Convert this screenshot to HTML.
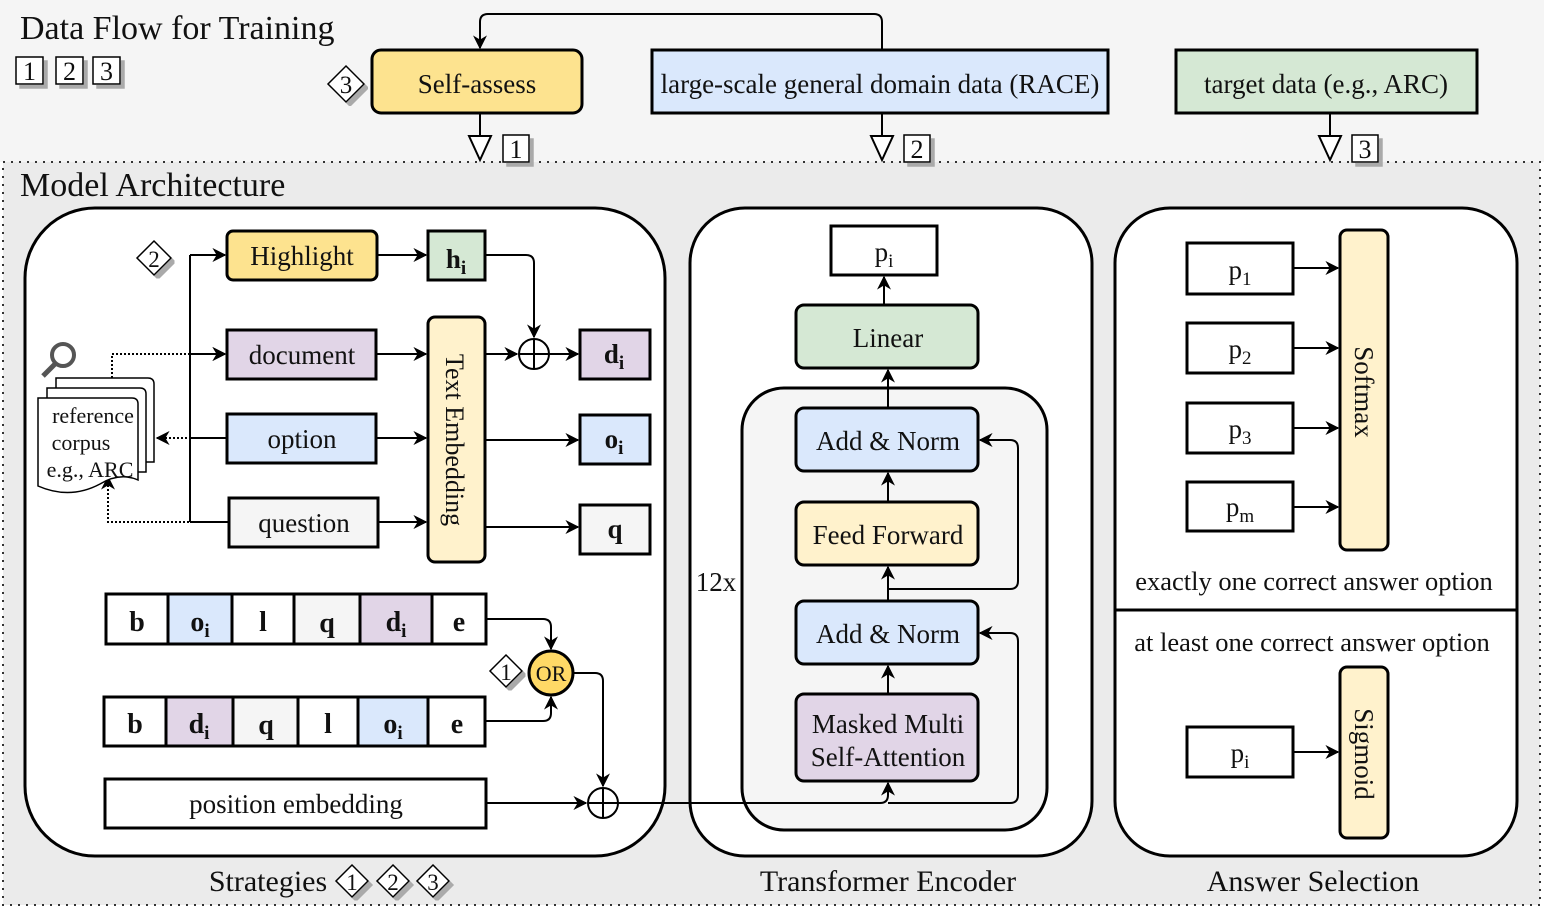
<!DOCTYPE html>
<html><head><meta charset="utf-8"><style>body{margin:0;background:#fff}svg{display:block}text{font-family:"Liberation Serif",serif;fill:#111}</style></head><body>
<svg width="1544" height="909" viewBox="0 0 1544 909" xmlns="http://www.w3.org/2000/svg">
<defs>
<marker id="a" viewBox="0 0 10 10" refX="9" refY="5" markerWidth="7" markerHeight="7" orient="auto-start-reverse"><path d="M0,0 L10,5 L0,10 L3,5 z" fill="#000"/></marker>
<filter id="sh"><feDropShadow dx="4" dy="4" stdDeviation="0" flood-color="#aaa"/></filter>
</defs>
<rect x="0" y="0" width="1544" height="162" fill="#f5f5f5"/>
<rect x="3" y="162" width="1537" height="743" fill="#ebebeb" stroke="#333" stroke-width="2" stroke-dasharray="2,6"/>
<text x="20" y="39" font-size="34">Data Flow for Training</text>
<text x="20" y="196" font-size="34">Model Architecture</text>
<g font-size="26" filter="url(#sh)">
<rect x="16" y="57" width="27" height="27" fill="#fff" stroke="#000" stroke-width="1.5"/><text x="29.5" y="80" text-anchor="middle">1</text>
<rect x="56" y="57" width="27" height="27" fill="#fff" stroke="#000" stroke-width="1.5"/><text x="69.5" y="80" text-anchor="middle">2</text>
<rect x="93" y="57" width="27" height="27" fill="#fff" stroke="#000" stroke-width="1.5"/><text x="106.5" y="80" text-anchor="middle">3</text>
</g>
<rect x="372" y="50" width="210" height="63" rx="9" fill="#fde38f" stroke="#000" stroke-width="3"/>
<text x="477" y="93" font-size="27" text-anchor="middle">Self-assess</text>
<rect x="652" y="50" width="456" height="63" fill="#dae8fc" stroke="#000" stroke-width="3"/>
<text x="880" y="93" font-size="27" text-anchor="middle">large-scale general domain data (RACE)</text>
<rect x="1176" y="50" width="301" height="63" fill="#d5e8d4" stroke="#000" stroke-width="3"/>
<text x="1326" y="93" font-size="27" text-anchor="middle">target data (e.g., ARC)</text>
<path d="M882,50 V22 Q882,14 874,14 H488 Q480,14 480,22 V48" fill="none" stroke="#000" stroke-width="2" marker-end="url(#a)"/>
<g filter="url(#sh)"><path d="M346,66 L364,84 L346,102 L328,84 Z" fill="#fff" stroke="#000" stroke-width="1.5"/></g>
<text x="346" y="93" font-size="25" text-anchor="middle">3</text>
<g stroke="#000" stroke-width="2" fill="#fff">
<path d="M480,113 V136"/><path d="M469,136 H491 L480,160 Z"/>
<path d="M882,113 V136"/><path d="M871,136 H893 L882,160 Z"/>
<path d="M1330,113 V136"/><path d="M1319,136 H1341 L1330,160 Z"/>
</g>
<g font-size="26" filter="url(#sh)">
<rect x="503" y="135" width="26" height="27" fill="#fff" stroke="#000" stroke-width="1.5"/><text x="516" y="158" text-anchor="middle">1</text>
<rect x="904" y="135" width="26" height="27" fill="#fff" stroke="#000" stroke-width="1.5"/><text x="917" y="158" text-anchor="middle">2</text>
<rect x="1352" y="135" width="26" height="27" fill="#fff" stroke="#000" stroke-width="1.5"/><text x="1365" y="158" text-anchor="middle">3</text>
</g>
<rect x="25" y="208" width="640" height="648" rx="70" fill="#fff" stroke="#000" stroke-width="3"/>
<rect x="690" y="208" width="402" height="648" rx="55" fill="#fff" stroke="#000" stroke-width="3"/>
<rect x="1115" y="208" width="402" height="648" rx="55" fill="#fff" stroke="#000" stroke-width="3"/>
<line x1="1115" y1="610" x2="1517" y2="610" stroke="#000" stroke-width="3"/>
<g filter="url(#sh)"><path d="M154,241 L171,258 L154,275 L137,258 Z" fill="#fff" stroke="#000" stroke-width="1.5"/></g>
<text x="154" y="267" font-size="23" text-anchor="middle">2</text>
<g stroke="#000" stroke-width="3">
<rect x="227" y="231" width="150" height="49" rx="6" fill="#fde38f"/>
<rect x="428" y="231" width="57" height="49" fill="#d5e8d4"/>
<rect x="227" y="330" width="149" height="49" fill="#e1d5e7"/>
<rect x="227" y="414" width="149" height="49" fill="#dae8fc"/>
<rect x="229" y="498" width="149" height="49" fill="#f5f5f5"/>
<rect x="428" y="317" width="57" height="245" rx="7" fill="#fff2cc"/>
<rect x="580" y="330" width="70" height="49" fill="#e1d5e7"/>
<rect x="580" y="415" width="70" height="49" fill="#dae8fc"/>
<rect x="580" y="505" width="70" height="49" fill="#f5f5f5"/>
</g>
<g font-size="27" text-anchor="middle">
<text x="302" y="265">Highlight</text>
<text x="302" y="364">document</text>
<text x="302" y="448">option</text>
<text x="304" y="532">question</text>
<text x="456" y="268" font-weight="bold">h<tspan font-size="19" dy="6">i</tspan></text>
<text x="614" y="363" font-weight="bold">d<tspan font-size="19" dy="6">i</tspan></text>
<text x="614" y="448" font-weight="bold">o<tspan font-size="19" dy="6">i</tspan></text>
<text x="615" y="538" font-weight="bold">q</text>
<text transform="translate(446,440) rotate(90)" font-size="26">Text Embedding</text>
</g>
<g stroke="#000" stroke-width="2" fill="none">
<path d="M190,255 V522"/>
<path d="M190,255 H225" marker-end="url(#a)"/>
<path d="M190,354 H225" marker-end="url(#a)"/>
<path d="M190,438 H227"/><path d="M190,522 H229"/>
<path d="M377,255 H426" marker-end="url(#a)"/>
<path d="M485,255 H526 Q534,255 534,263 V337" marker-end="url(#a)"/>
<path d="M376,354 H426" marker-end="url(#a)"/>
<path d="M376,438 H426" marker-end="url(#a)"/>
<path d="M378,522 H426" marker-end="url(#a)"/>
<path d="M485,354 H517" marker-end="url(#a)"/>
<path d="M549,354 H578" marker-end="url(#a)"/>
<path d="M485,440 H578" marker-end="url(#a)"/>
<path d="M485,527 H578" marker-end="url(#a)"/>
<circle cx="534" cy="354" r="15" fill="#fff"/><path d="M519,354 H549 M534,339 V369"/>
<path d="M112,378 V354 H225" stroke-dasharray="2,2" marker-end="url(#a)"/>
<path d="M227,438 H157" stroke-dasharray="2,2" marker-end="url(#a)"/>
<path d="M229,522 H108 V477" stroke-dasharray="2,2" marker-end="url(#a)"/>
</g>
<g stroke="#000" stroke-width="1.5" fill="#fff">
<path d="M56,378 H148 Q154,378 154,384 V462 H56 Z"/>
<path d="M47,388 H140 Q146,388 146,394 V472 H47 Z"/>
<path d="M38,398 H132 Q138,398 138,404 V480 Q120,472 100,484 Q70,500 38,486 Z"/>
</g>
<text x="93" y="423" font-size="22" text-anchor="middle">reference</text>
<text x="81" y="450" font-size="22" text-anchor="middle">corpus</text>
<text x="90" y="477" font-size="22" text-anchor="middle">e.g., ARC</text>
<circle cx="63" cy="355" r="11" fill="#fff" stroke="#555" stroke-width="4"/>
<line x1="55" y1="364" x2="43" y2="376" stroke="#555" stroke-width="5"/>
<g stroke="#000" stroke-width="3">
<rect x="106" y="594" width="62" height="50" fill="#fff"/><rect x="168" y="594" width="64" height="50" fill="#dae8fc"/><rect x="232" y="594" width="62" height="50" fill="#fff"/><rect x="294" y="594" width="66" height="50" fill="#f5f5f5"/><rect x="360" y="594" width="72" height="50" fill="#e1d5e7"/><rect x="432" y="594" width="54" height="50" fill="#fff"/>
<rect x="104" y="697" width="62" height="49" fill="#fff"/><rect x="166" y="697" width="67" height="49" fill="#e1d5e7"/><rect x="233" y="697" width="65" height="49" fill="#f5f5f5"/><rect x="298" y="697" width="60" height="49" fill="#fff"/><rect x="358" y="697" width="70" height="49" fill="#dae8fc"/><rect x="428" y="697" width="57" height="49" fill="#fff"/>
<rect x="105" y="779" width="381" height="49" fill="#fff"/>
</g>
<g font-size="28" font-weight="bold" text-anchor="middle">
<text x="137" y="631">b</text><text x="200" y="631">o<tspan font-size="19" dy="6">i</tspan></text><text x="263" y="631">l</text><text x="327" y="632">q</text><text x="396" y="631">d<tspan font-size="19" dy="6">i</tspan></text><text x="459" y="631">e</text>
<text x="135" y="733">b</text><text x="199" y="733">d<tspan font-size="19" dy="6">i</tspan></text><text x="266" y="734">q</text><text x="328" y="733">l</text><text x="393" y="733">o<tspan font-size="19" dy="6">i</tspan></text><text x="457" y="733">e</text>
</g>
<text x="296" y="813" font-size="27" text-anchor="middle">position embedding</text>
<g stroke="#000" stroke-width="2" fill="none">
<path d="M486,619 H543 Q551,619 551,627 V649" marker-end="url(#a)"/>
<path d="M485,721 H543 Q551,721 551,713 V697" marker-end="url(#a)"/>
<path d="M573,673 H595 Q603,673 603,681 V786" marker-end="url(#a)"/>
<path d="M486,803 H586" marker-end="url(#a)"/>
<circle cx="603" cy="803" r="15" fill="#fff"/><path d="M588,803 H618 M603,788 V818"/>
</g>
<circle cx="551" cy="673" r="22" fill="#ffd966" stroke="#000" stroke-width="3"/>
<text x="551" y="681" font-size="22" text-anchor="middle">OR</text>
<g filter="url(#sh)"><path d="M506,655 L522,671 L506,687 L490,671 Z" fill="#fff" stroke="#000" stroke-width="1.5"/></g>
<text x="506" y="680" font-size="23" text-anchor="middle">1</text>
<rect x="742" y="388" width="305" height="442" rx="42" fill="#f5f5f5" stroke="#000" stroke-width="3"/>
<g stroke="#000" stroke-width="3">
<rect x="831" y="226" width="106" height="49" fill="#fff"/>
<rect x="796" y="305" width="182" height="63" rx="8" fill="#d5e8d4"/>
<rect x="796" y="408" width="182" height="63" rx="8" fill="#dae8fc"/>
<rect x="796" y="502" width="182" height="63" rx="8" fill="#fff2cc"/>
<rect x="796" y="601" width="182" height="63" rx="8" fill="#dae8fc"/>
<rect x="796" y="694" width="182" height="87" rx="8" fill="#e1d5e7"/>
</g>
<g font-size="27" text-anchor="middle">
<text x="884" y="261">p<tspan font-size="19" dy="6">i</tspan></text>
<text x="888" y="347">Linear</text>
<text x="888" y="450">Add &amp; Norm</text>
<text x="888" y="544">Feed Forward</text>
<text x="888" y="643">Add &amp; Norm</text>
<text x="888" y="733">Masked Multi</text>
<text x="888" y="766">Self-Attention</text>
<text x="716" y="591">12x</text>
</g>
<g stroke="#000" stroke-width="2" fill="none">
<path d="M618,803 H880 Q888,803 888,795 V783" marker-end="url(#a)"/>
<path d="M884,305 V277" marker-end="url(#a)"/>
<path d="M888,408 V370" marker-end="url(#a)"/>
<path d="M888,502 V473" marker-end="url(#a)"/>
<path d="M888,601 V567" marker-end="url(#a)"/>
<path d="M888,694 V666" marker-end="url(#a)"/>
<path d="M888,589 H1010 Q1018,589 1018,581 V448 Q1018,440 1010,440 H980" marker-end="url(#a)"/>
<path d="M888,803 H1010 Q1018,803 1018,795 V641 Q1018,633 1010,633 H980" marker-end="url(#a)"/>
</g>
<g stroke="#000" stroke-width="3">
<rect x="1187" y="243" width="106" height="51" fill="#fff"/>
<rect x="1187" y="323" width="106" height="50" fill="#fff"/>
<rect x="1187" y="403" width="106" height="50" fill="#fff"/>
<rect x="1187" y="482" width="106" height="49" fill="#fff"/>
<rect x="1187" y="727" width="106" height="50" fill="#fff"/>
<rect x="1340" y="230" width="48" height="320" rx="7" fill="#fff2cc"/>
<rect x="1340" y="667" width="48" height="171" rx="7" fill="#fff2cc"/>
</g>
<g font-size="27" text-anchor="middle">
<text x="1240" y="279">p<tspan font-size="19" dy="6">1</tspan></text>
<text x="1240" y="358">p<tspan font-size="19" dy="6">2</tspan></text>
<text x="1240" y="438">p<tspan font-size="19" dy="6">3</tspan></text>
<text x="1240" y="516">p<tspan font-size="19" dy="6">m</tspan></text>
<text x="1240" y="762">p<tspan font-size="19" dy="6">i</tspan></text>
<text transform="translate(1355,392) rotate(90)">Softmax</text>
<text transform="translate(1355,754) rotate(90)">Sigmoid</text>
<text x="1314" y="590" font-size="26.5">exactly one correct answer option</text>
<text x="1312" y="651" font-size="26.5">at least one correct answer option</text>
</g>
<g stroke="#000" stroke-width="2" fill="none">
<path d="M1293,268 H1338" marker-end="url(#a)"/>
<path d="M1293,348 H1338" marker-end="url(#a)"/>
<path d="M1293,428 H1338" marker-end="url(#a)"/>
<path d="M1293,507 H1338" marker-end="url(#a)"/>
<path d="M1293,752 H1338" marker-end="url(#a)"/>
</g>
<g font-size="30" text-anchor="middle">
<text x="268" y="891">Strategies</text>
<text x="888" y="891">Transformer Encoder</text>
<text x="1313" y="891">Answer Selection</text>
</g>
<g filter="url(#sh)" stroke="#000" stroke-width="1.5" fill="#fff">
<path d="M352,865 L368,881 L352,897 L336,881 Z"/>
<path d="M393,865 L409,881 L393,897 L377,881 Z"/>
<path d="M433,865 L449,881 L433,897 L417,881 Z"/>
</g>
<g font-size="23" text-anchor="middle"><text x="352" y="890">1</text><text x="393" y="890">2</text><text x="433" y="890">3</text></g>
</svg>
</body></html>
